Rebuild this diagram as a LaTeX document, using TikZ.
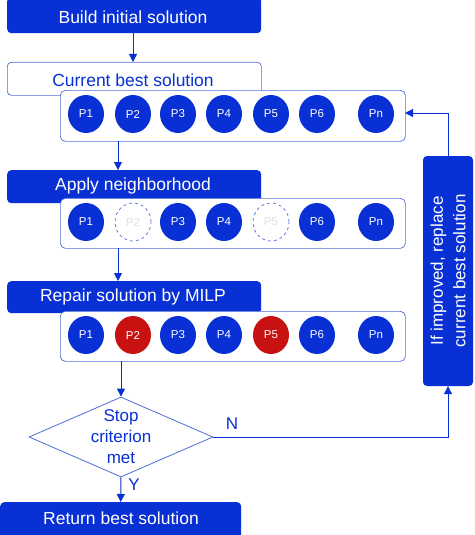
\documentclass[tikz,border=0pt]{standalone}
\usepackage{fontspec}
\setmainfont{Liberation Sans}
\usetikzlibrary{shapes.geometric,arrows.meta}
\definecolor{mblue}{RGB}{8,48,212}
\definecolor{mred}{RGB}{200,18,18}
\definecolor{lblue}{RGB}{80,110,215}
\definecolor{ghost}{RGB}{220,225,235}
\begin{document}
\begin{tikzpicture}[x=1pt,y=-1pt,
  big/.style={font=\fontsize{17.5}{19}\selectfont},
  solid box/.style={fill=mblue,draw=none,rounded corners=4pt,text=white},
  label box/.style={fill=white,draw=lblue,line width=0.7pt,rounded corners=4pt},
  row box/.style={fill=white,draw=lblue,line width=0.7pt,rounded corners=5pt},
  pcirc/.style={ellipse,minimum width=36pt,minimum height=38pt,inner sep=0pt,fill=mblue,text=white,font=\fontsize{11.5}{12}\selectfont},
  predc/.style={pcirc,fill=mred},
  pghost/.style={pcirc,fill=white,draw=lblue,dashed,line width=0.7pt,text=ghost},
  arr/.style={draw=mblue,line width=1pt,-{Triangle[length=8pt,width=8pt]}},
  lbl/.style={text=mblue,font=\fontsize{17}{19}\selectfont}]
\useasboundingbox (0,0) rectangle (474,535);
% top
\node[solid box,minimum width=254pt,minimum height=36pt,anchor=north west] (build) at (7,-3) {};
\node[text=white,big] (buildt) at (133,17) {Build initial solution};
\node[label box,minimum width=254pt,minimum height=33pt,anchor=north west] (cur) at (7,62) {};
\node[text=mblue,big] (curt) at (133,80) {Current best solution};
\node[row box,minimum width=345pt,minimum height=51pt,anchor=north west] (row1) at (60,90) {};
% row 1 circles
\foreach \n/\x in {1/86,2/133,3/178,4/224,5/271,6/317} {\node[pcirc] (a\n) at (\x,114) {P\n};}
\node[pcirc] (an) at (376,114) {Pn};
% apply
\node[solid box,minimum width=254pt,minimum height=33pt,anchor=north west] (apply) at (7,170) {};
\node[text=white,big] (applyt) at (133,186) {Apply neighborhood};
\node[row box,minimum width=345pt,minimum height=50pt,anchor=north west] (row2) at (60,198) {};
\node[pcirc] (b1) at (86,222) {P1};
\node[pghost] (b2) at (133,222) {P2};
\node[pcirc] (b3) at (178,222) {P3};
\node[pcirc] (b4) at (224,222) {P4};
\node[pghost] (b5) at (271,222) {P5};
\node[pcirc] (b6) at (317,222) {P6};
\node[pcirc] (bn) at (376,222) {Pn};
% repair
\node[solid box,minimum width=254pt,minimum height=32pt,anchor=north west] (repair) at (7,281) {};
\node[text=white,big] (repairt) at (133,297) {Repair solution by MILP};
\node[row box,minimum width=345pt,minimum height=50pt,anchor=north west] (row3) at (60,311) {};
\node[pcirc] (c1) at (86,335) {P1};
\node[predc] (c2) at (133,335) {P2};
\node[pcirc] (c3) at (178,335) {P3};
\node[pcirc] (c4) at (224,335) {P4};
\node[predc] (c5) at (271,335) {P5};
\node[pcirc] (c6) at (317,335) {P6};
\node[pcirc] (cn) at (376,335) {Pn};
% diamond
\node[diamond,draw=lblue,line width=0.8pt,fill=white,minimum width=184pt,minimum height=80pt,inner sep=0pt,aspect=2.3] (stop) at (121,437) {};
\node[text=mblue,align=center,font=\fontsize{17}{21}\selectfont] (stopt) at (121,437) {Stop\\criterion\\met};
% return
\node[solid box,minimum width=241pt,minimum height=40pt,anchor=north west] (ret) at (0,502) {};
\node[text=white,big] (rett) at (121,518) {Return best solution};
% vertical box
\node[solid box,minimum width=230pt,minimum height=50pt,rotate=90,align=center,font=\fontsize{17}{22.5}\selectfont] (impr) at (448,271) {If improved, replace\\current best solution};
% labels
\node[lbl] (nl) at (232,424) {N};
\node[lbl] (yl) at (134,485) {Y};
% coordinates
\coordinate (r1b) at (118,141);
\coordinate (apt) at (118,170);
\coordinate (r2b) at (118,248);
\coordinate (rpt) at (118,281);
\coordinate (r3b) at (121,361);
\coordinate (corner1) at (448,437);
\coordinate (corner2) at (448,113);
\coordinate (r1r) at (405,113);
% arrows
\draw[arr] (build.south -| buildt) -- (cur.north -| buildt);
\draw[arr] (r1b) -- (apt);
\draw[arr] (r2b) -- (rpt);
\draw[arr] (r3b) -- (stop.north);
\draw[arr] (stop.south) -- (ret.north);
\draw[arr] (stop.east) -- (corner1) -- (impr.west);
\draw[arr] (impr.east) -- (corner2) -- (r1r);
\end{tikzpicture}
\end{document}
